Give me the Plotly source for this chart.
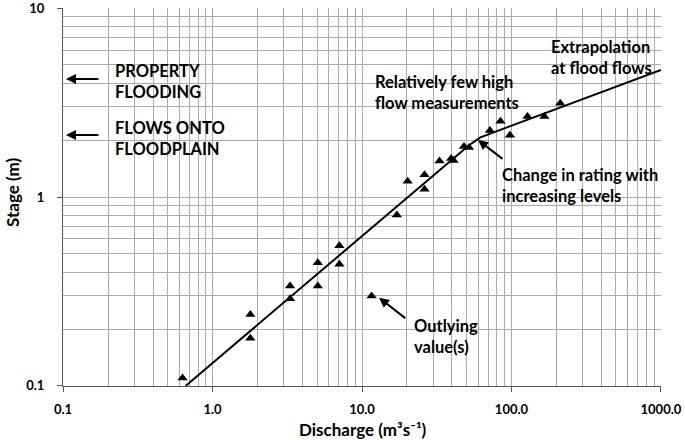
import numpy as np
import plotly.graph_objects as go

# Gauged measurements (discharge m3/s, stage m)
meas_q = [0.63, 1.79, 1.79, 3.3, 3.3, 5.06, 5.06, 7.06, 7.06, 11.6, 17.1,
          20.2, 26.2, 26.2, 33.0, 39.5, 41.0, 48.1, 52.0, 71.8, 84.4, 97.7,
          128, 166, 212]
meas_h = [0.110, 0.239, 0.179, 0.338, 0.289, 0.449, 0.338, 0.552, 0.441, 0.299, 0.803,
          1.21, 1.31, 1.10, 1.55, 1.60, 1.56, 1.85, 1.83, 2.25, 2.52, 2.12,
          2.67, 2.67, 3.14]

# Rating curve vertices
rating_q = [0.66, 52, 62, 1000]
rating_h = [0.10, 1.88, 2.07, 4.70]

x_tickvals = [0.1, 1, 10, 100, 1000]
x_ticktext = ["0.1", "1.0", "10.0", "100.0", "1000.0"]
y_tickvals = [0.1, 1, 10]
y_ticktext = ["0.1", "1", "10"]

FONT = "Lato"
grid_x = [m * 10.0 ** e for e in range(-1, 3) for m in range(2, 10)]
grid_y = [m * 10.0 ** e for e in range(-1, 1) for m in range(2, 10)]

# plot area in pixels
L, R, T, B = 63, 661, 8, 386
W, H = 685, 440
EPS = 0.0005


def P(px, py):
    return (px - L) / (R - L), (B - py) / (B - T)


fig = go.Figure()
fig.add_trace(go.Scatter(x=rating_q, y=rating_h, mode="lines",
                         line=dict(color="black", width=2), hoverinfo="skip"))
fig.add_trace(go.Scatter(x=meas_q, y=meas_h, mode="markers",
                         marker=dict(symbol="triangle-up", size=9, color="black")))

texts = [
    ("<b>PROPERTY<br>FLOODING</b>", 113, 81.5),
    ("<b>FLOWS ONTO<br>FLOODPLAIN</b>", 113, 138.5),
    ("<b>Relatively few high<br>flow measurements</b>", 373, 92.5),
    ("<b>Extrapolation<br>at flood flows</b>", 549, 57),
    ("<b>Change in rating with<br>increasing levels</b>", 500, 185.7),
    ("<b>Outlying<br>value(s)</b>", 412, 336),
]
for t, px, py in texts:
    xx, yy = P(px, py)
    fig.add_annotation(text=t, x=xx, y=yy, xref="paper", yref="paper",
                       xanchor="left", yanchor="middle", align="left", showarrow=False,
                       font=dict(family=FONT, size=16.5, color="black"))

arrows = [((66, 79), (100, 79)), ((66, 135), (100, 135)),
          ((478, 140), (504, 160)), ((379, 297.7), (406.7, 319.3))]
for (hx, hy), (tx, ty) in arrows:
    xx, yy = P(hx, hy)
    fig.add_annotation(text="", x=xx, y=yy, xref="paper", yref="paper",
                       ax=tx - hx, ay=ty - hy, axref="pixel", ayref="pixel",
                       showarrow=True, arrowhead=2, arrowsize=1, arrowwidth=2,
                       arrowcolor="black", standoff=0, startstandoff=0)

xx, yy = P(12, 193)
fig.add_annotation(text="<b>Stage (m)</b>", x=xx, y=yy, xref="paper", yref="paper",
                   textangle=-90, showarrow=False, xanchor="center", yanchor="middle",
                   font=dict(family=FONT, size=17, color="black"))
xx, yy = P(363, 430)
fig.add_annotation(text="<b>Discharge (m³s⁻¹)</b>", x=xx, y=yy, xref="paper", yref="paper",
                   showarrow=False, xanchor="center", yanchor="middle",
                   font=dict(family=FONT, size=17, color="black"))

gridcol = "#ababab"
fig.update_layout(
    width=W, height=H, showlegend=False,
    margin=dict(l=L, r=W - R, t=T, b=H - B, pad=0, autoexpand=False),
    plot_bgcolor="white", paper_bgcolor="white",
    font=dict(family=FONT, color="black"),
    xaxis=dict(type="log", range=[-1 - EPS, 3 + EPS], tickvals=x_tickvals,
               ticktext=["<b>%s</b>" % s for s in x_ticktext],
               ticks="outside", ticklen=5, tickcolor="#555", tickwidth=1,
               showline=True, linecolor="#555", linewidth=1,
               showgrid=True, gridcolor=gridcol, gridwidth=1,
               minor=dict(tickvals=grid_x, showgrid=True, gridcolor=gridcol,
                          gridwidth=1, ticks=""),
               tickfont=dict(family=FONT, size=13, color="black"),
               ticklabelstandoff=6, zeroline=False, mirror=False,
               automargin=False, ticklabeloverflow="allow"),
    yaxis=dict(type="log", range=[-1 - EPS, 1 + EPS], tickvals=y_tickvals,
               ticktext=["<b>%s</b>   " % s for s in y_ticktext],
               ticks="outside", ticklen=5, tickcolor="#555", tickwidth=1,
               showline=True, linecolor="#555", linewidth=1,
               showgrid=True, gridcolor=gridcol, gridwidth=1,
               minor=dict(tickvals=grid_y, showgrid=True, gridcolor=gridcol,
                          gridwidth=1, ticks=""),
               tickfont=dict(family=FONT, size=13, color="black"),
               ticklabeloverflow="allow", zeroline=False, automargin=False),
)

fig.write_html("out.html")
